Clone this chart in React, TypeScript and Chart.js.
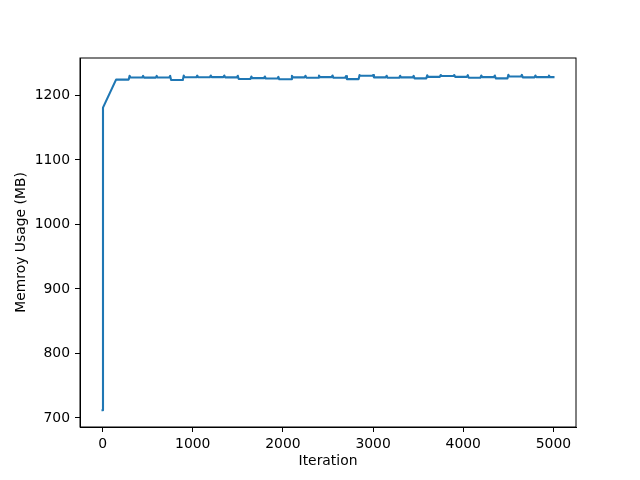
import React, { useEffect, useRef } from 'react';
import { Chart, registerables } from 'chart.js';
Chart.register(...registerables);

// iteration -> memory usage (MB)
const iterations = [
  0, 5, 150,
  290, 300, 310,
  440, 450, 460,
  590, 600, 610,
  740, 750, 760,
  890, 900, 910,
  1040, 1050, 1060,
  1190, 1200, 1210,
  1340, 1350, 1360,
  1490, 1500, 1510,
  1640, 1650, 1660,
  1790, 1800, 1810,
  1940, 1950, 1960,
  2090, 2100, 2110,
  2240, 2250, 2260,
  2390, 2400, 2410,
  2540, 2550, 2560,
  2690, 2700, 2710,
  2840, 2850, 2860,
  2990, 3000, 3010,
  3140, 3150, 3160,
  3290, 3300, 3310,
  3440, 3450, 3460,
  3590, 3600, 3610,
  3740, 3750, 3760,
  3890, 3900, 3910,
  4040, 4050, 4060,
  4190, 4200, 4210,
  4340, 4350, 4360,
  4490, 4500, 4510,
  4640, 4650, 4660,
  4790, 4800, 4810,
  4940, 4950, 4960,
  5000,
];

const memoryUsage = [
  712, 1181, 1224.5,
  1224.5, 1230.3, 1227.8,
  1227.8, 1230.3, 1227.6,
  1227.6, 1230.3, 1227.8,
  1227.8, 1230.3, 1223.8,
  1223.8, 1230.7, 1228.2,
  1228.2, 1230.7, 1228.2,
  1228.2, 1230.9, 1228.4,
  1228.4, 1230.9, 1228.0,
  1228.0, 1230.5, 1225.5,
  1225.5, 1229.3, 1226.8,
  1226.8, 1229.3, 1226.3,
  1226.3, 1228.8, 1225.0,
  1225.0, 1230.5, 1228.0,
  1228.0, 1230.5, 1227.5,
  1227.5, 1230.9, 1228.4,
  1228.4, 1230.9, 1227.4,
  1227.4, 1229.9, 1225.3,
  1225.3, 1231.5, 1230.4,
  1230.4, 1231.6, 1228.0,
  1228.0, 1230.5, 1227.4,
  1227.4, 1230.4, 1227.9,
  1227.9, 1230.4, 1226.4,
  1226.4, 1231.3, 1228.8,
  1228.8, 1231.6, 1230.2,
  1230.2, 1231.6, 1228.8,
  1228.8, 1231.3, 1227.4,
  1227.4, 1230.9, 1228.4,
  1228.4, 1230.9, 1226.4,
  1226.4, 1231.9, 1229.4,
  1229.4, 1231.9, 1227.9,
  1227.9, 1230.9, 1228.4,
  1228.4, 1230.9, 1228.4,
  1228.4,
];

const xTicks = [0, 1000, 2000, 3000, 4000, 5000];
const yTicks = [700, 800, 900, 1000, 1100, 1200];

// matplotlib-style frame around the axes
const framePlugin = {
  id: 'frame',
  afterDraw(chart: any) {
    const { ctx, chartArea } = chart;
    ctx.save();
    ctx.strokeStyle = '#000';
    ctx.lineWidth = 1;
    ctx.strokeRect(chartArea.left, chartArea.top, chartArea.right - chartArea.left, chartArea.bottom - chartArea.top);
    ctx.restore();
  },
};

export default function App(): React.ReactElement {
  const chartRef = useRef<Chart | null>(null);
  const canvasRef = useRef<HTMLCanvasElement | null>(null);

  useEffect(() => {
    document.body.style.margin = '0';
    if (!canvasRef.current) return;
    const ctx = canvasRef.current.getContext('2d');
    if (!ctx) return;

    if (chartRef.current) {
      chartRef.current.destroy();
    }

    Chart.defaults.font.family = "'DejaVu Sans', sans-serif";
    Chart.defaults.font.size = 13.9;
    Chart.defaults.color = '#000';

    chartRef.current = new Chart(ctx, {
      type: 'line',
      data: {
        datasets: [
          {
            label: 'Memory',
            data: iterations.map((it, i) => ({ x: it, y: memoryUsage[i] })),
            borderColor: '#1f77b4',
            borderWidth: 2.1,
            borderJoinStyle: 'round',
            borderCapStyle: 'square',
            pointRadius: 0,
            tension: 0,
            fill: false,
          },
        ],
      },
      options: {
        responsive: true,
        maintainAspectRatio: false,
        animation: false,
        layout: {
          padding: { left: 12, top: 58, right: 64, bottom: 0 },
        },
        plugins: {
          legend: { display: false },
          tooltip: { enabled: false },
        },
        scales: {
          x: {
            type: 'linear',
            min: -250,
            max: 5250,
            afterBuildTicks: (scale: any) => {
              scale.ticks = xTicks.map((v) => ({ value: v }));
            },
            afterFit: (scale: any) => {
              scale.height = 53;
            },
            title: {
              display: true,
              text: 'Iteration',
              padding: { top: 0, bottom: 10 },
            },
            grid: {
              drawOnChartArea: false,
              tickLength: 5,
              color: '#000',
            },
            border: { display: true, color: '#000' },
            ticks: {
              padding: 4,
              maxRotation: 0,
              autoSkip: false,
              callback: (value: any) => String(value),
            },
          },
          y: {
            type: 'linear',
            min: 686,
            max: 1258,
            afterBuildTicks: (scale: any) => {
              scale.ticks = yTicks.map((v) => ({ value: v }));
            },
            afterFit: (scale: any) => {
              scale.width = 68;
            },
            title: {
              display: true,
              text: 'Memroy Usage (MB)',
              padding: { top: 1, bottom: 0 },
            },
            grid: {
              drawOnChartArea: false,
              tickLength: 5,
              color: '#000',
            },
            border: { display: true, color: '#000' },
            ticks: {
              padding: 5,
              autoSkip: false,
              callback: (value: any) => String(value),
            },
          },
        },
      },
      plugins: [framePlugin],
    });

    return () => {
      if (chartRef.current) {
        chartRef.current.destroy();
        chartRef.current = null;
      }
    };
  }, []);

  return (
    <div style={{ width: '640px', height: '480px', position: 'relative' }}>
      <canvas ref={canvasRef} />
    </div>
  );
}
